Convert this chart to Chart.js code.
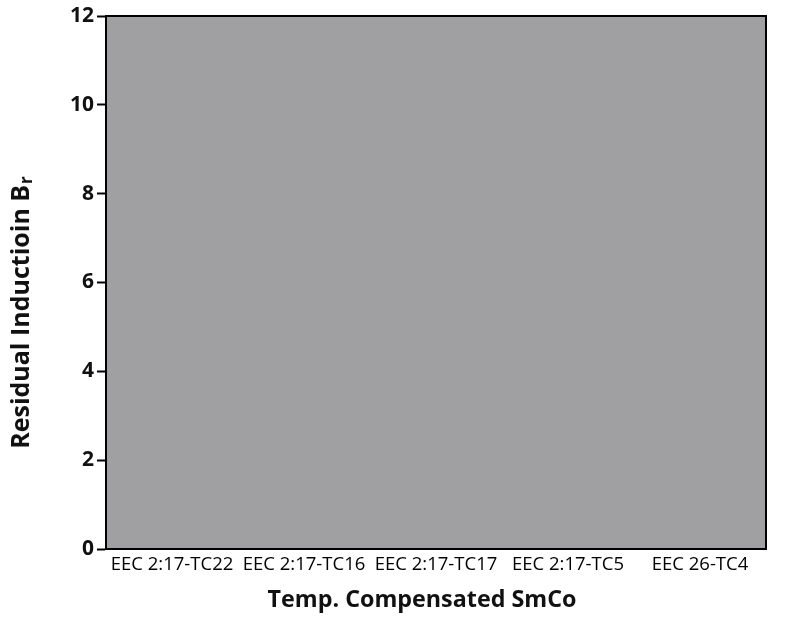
<!DOCTYPE html>
<html><head><meta charset="utf-8">
<script src="https://cdn.jsdelivr.net/npm/chart.js@4"></script>
<style>body{margin:0;background:#fff}canvas{display:block}</style>
</head><body>
<canvas id="c" width="811" height="620"></canvas>
<script>
const categories = ["EEC 2:17-TC22", "EEC 2:17-TC16", "EEC 2:17-TC17", "EEC 2:17-TC5", "EEC 26-TC4"];
const residualInduction = [13, 13, 13, 13, 13];
const yTicks = [0, 2, 4, 6, 8, 10, 12];
const xTitle = 'Temp. Compensated SmCo';
const yTitleMain = 'Residual Inductioin B';
const yTitleSub = 'r';

const frameAndTitles = {
  id: 'frameAndTitles',
  afterDraw(chart) {
    const a = chart.chartArea, ctx = chart.ctx;
    ctx.save();
    ctx.strokeStyle = '#000';
    ctx.lineWidth = 2;
    ctx.strokeRect(a.left, a.top, a.right - a.left, a.bottom - a.top);
    ctx.fillStyle = '#111';
    // x title
    ctx.font = 'bold 23.3px "Open Sans"';
    ctx.textAlign = 'center';
    ctx.textBaseline = 'middle';
    ctx.fillText(xTitle, 422, 600);
    // y title with subscript
    ctx.translate(22, 0);
    ctx.rotate(-Math.PI / 2);
    ctx.font = 'bold 25px "Open Sans"';
    const w1 = ctx.measureText(yTitleMain).width;
    ctx.font = 'bold 17px "Open Sans"';
    const w2 = ctx.measureText(yTitleSub).width;
    const total = w1 + w2;
    const cy = 313;
    ctx.textAlign = 'left';
    ctx.textBaseline = 'middle';
    ctx.font = 'bold 25px "Open Sans"';
    ctx.fillText(yTitleMain, -cy - total / 2, 0);
    ctx.font = 'bold 17px "Open Sans"';
    ctx.fillText(yTitleSub, -cy - total / 2 + w1 + 1, 5);
    ctx.restore();
  }
};

new Chart(document.getElementById('c'), {
  type: 'bar',
  data: {
    labels: categories,
    datasets: [{
      data: residualInduction,
      backgroundColor: '#a0a0a2',
      borderWidth: 0,
      barPercentage: 1,
      categoryPercentage: 1
    }]
  },
  options: {
    responsive: false,
    animation: false,
    devicePixelRatio: 1,
    layout: { padding: { top: 16, right: 45, left: 66, bottom: 0 } },
    plugins: { legend: { display: false }, tooltip: { enabled: false } },
    scales: {
      x: {
        afterFit(s) { s.height = 71; },
        grid: { display: false, drawTicks: false, tickLength: 0 },
        border: { display: true, color: '#000', width: 2 },
        ticks: { color: '#000', font: { family: 'Open Sans', size: 18.5, weight: 500 }, padding: 5, maxRotation: 0, autoSkip: false }
      },
      y: {
        min: 0, max: 12,
        afterFit(s) { s.width = 40; },
        afterBuildTicks(axis) { axis.ticks = yTicks.map(v => ({ value: v })); },
        grid: { drawOnChartArea: false, drawTicks: true, tickLength: 9, tickColor: '#000', tickWidth: 2 },
        border: { display: true, color: '#000', width: 2 },
        ticks: { color: '#111', font: { family: 'Open Sans', size: 21, weight: 'bold' }, padding: 3 }
      }
    }
  },
  plugins: [frameAndTitles]
});
</script>
</body></html>
